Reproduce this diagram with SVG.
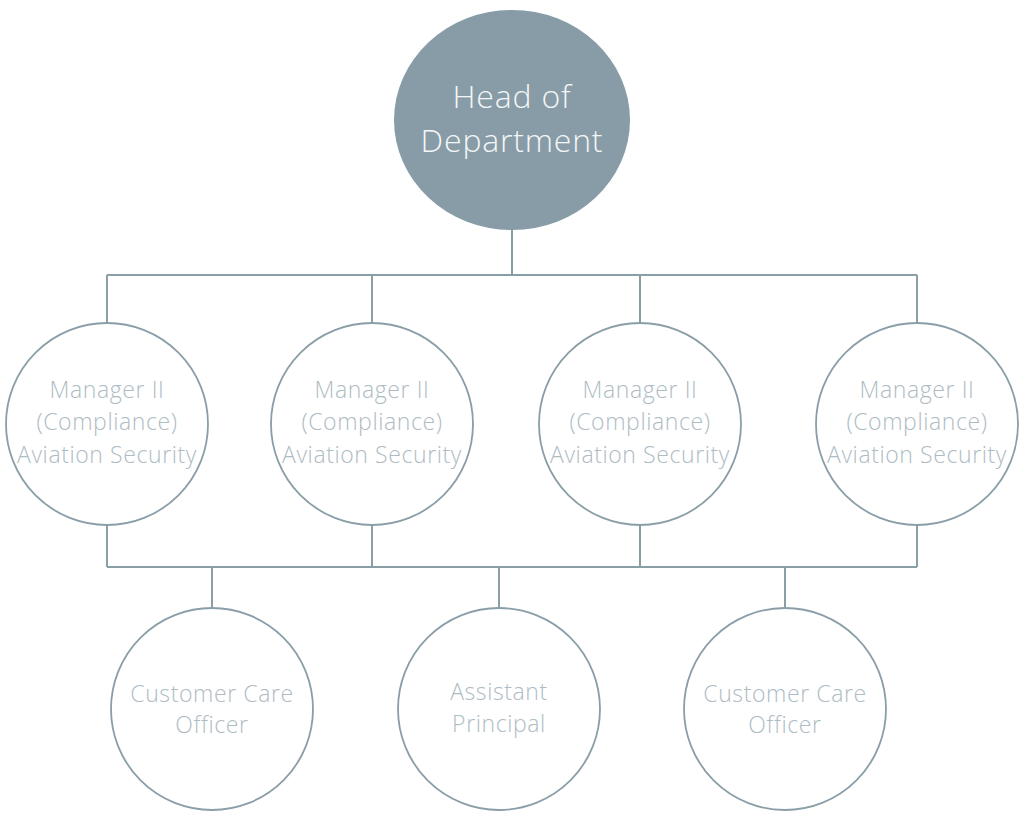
<svg xmlns="http://www.w3.org/2000/svg" width="1024" height="825" viewBox="0 0 1024 825">
<style>
.bg{fill:#ffffff}
.node{fill:#ffffff;stroke:#8a9ea8;stroke-width:1.8}
.head{fill:#879ca6;stroke:none}
.conn{stroke:#8a9ea8;stroke-width:2;fill:none}
text{font-family:"Open Sans","Lato",sans-serif;font-weight:300;text-anchor:middle}
.t{fill:#aebcc4;font-size:23px;letter-spacing:0.6px}
.th{fill:#f4f6f7;font-size:32px;letter-spacing:0.8px}
</style>
<rect class="bg" x="0" y="0" width="1024" height="825"/>
<g id="connectors">
<path class="conn" d="M512 229V275M107 275H917M107 275V323M372 275V323M640 275V323M917 275V323"/>
<path class="conn" d="M107 525V567M372 525V567M640 525V567M917 525V567M107 567H917M212 567V608M499 567V608M785 567V608"/>
</g>
<g id="head">
<ellipse class="head" cx="512" cy="120" rx="118" ry="110"/>
<text class="th" x="512" y="108">Head of</text>
<text class="th" x="512" y="152">Department</text>
</g>
<g id="m1">
<circle class="node" cx="107" cy="424" r="101"/>
<text class="t" x="107" y="398">Manager II</text>
<text class="t" x="107" y="430">(Compliance)</text>
<text class="t" x="107" y="463">Aviation Security</text>
</g>
<g id="m2">
<circle class="node" cx="372" cy="424" r="101"/>
<text class="t" x="372" y="398">Manager II</text>
<text class="t" x="372" y="430">(Compliance)</text>
<text class="t" x="372" y="463">Aviation Security</text>
</g>
<g id="m3">
<circle class="node" cx="640" cy="424" r="101"/>
<text class="t" x="640" y="398">Manager II</text>
<text class="t" x="640" y="430">(Compliance)</text>
<text class="t" x="640" y="463">Aviation Security</text>
</g>
<g id="m4">
<circle class="node" cx="917" cy="424" r="101"/>
<text class="t" x="917" y="398">Manager II</text>
<text class="t" x="917" y="430">(Compliance)</text>
<text class="t" x="917" y="463">Aviation Security</text>
</g>
<g id="c1">
<circle class="node" cx="212" cy="709" r="101"/>
<text class="t" x="212" y="702">Customer Care</text>
<text class="t" x="212" y="733">Officer</text>
</g>
<g id="c2">
<circle class="node" cx="499" cy="709" r="101"/>
<text class="t" x="499" y="700">Assistant</text>
<text class="t" x="499" y="732">Principal</text>
</g>
<g id="c3">
<circle class="node" cx="785" cy="709" r="101"/>
<text class="t" x="785" y="702">Customer Care</text>
<text class="t" x="785" y="733">Officer</text>
</g>
</svg>
